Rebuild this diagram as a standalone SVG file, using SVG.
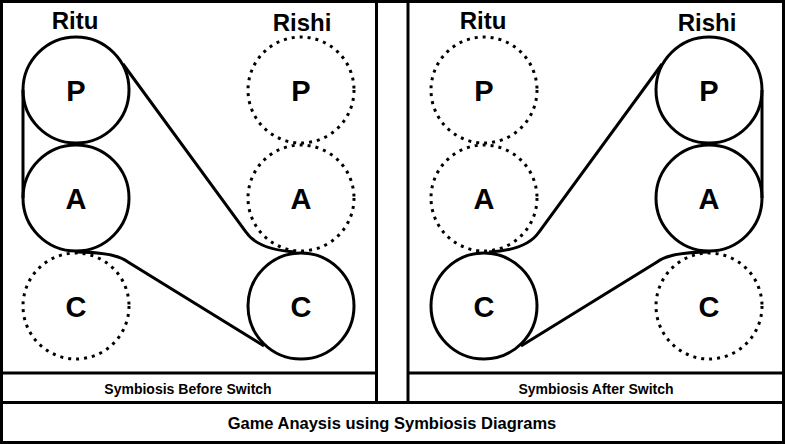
<svg xmlns="http://www.w3.org/2000/svg" width="785" height="444" viewBox="0 0 785 444">
<style>
.b{fill:none;stroke:#000;stroke-width:3}
.s{fill:none;stroke:#000;stroke-width:3}
.d{fill:none;stroke:#000;stroke-width:3;stroke-dasharray:3 5}
.n{font-family:"Liberation Sans",Arial,sans-serif;font-weight:bold;text-anchor:middle}
.l{font-size:29px}
.h{font-size:24px}
</style>
<rect width="785" height="444" fill="#fff"/>
<g id="frame">
<rect class="b" x="1.5" y="1.5" width="782" height="441"/>
<rect class="b" x="1.5" y="1.5" width="375" height="401"/>
<rect class="b" x="408" y="1.5" width="375.5" height="401"/>
<line class="b" x1="1.5" y1="373" x2="376.5" y2="373"/>
<line class="b" x1="408" y1="373" x2="783.5" y2="373"/>
<line class="b" x1="1.5" y1="402.5" x2="783.5" y2="402.5"/>
</g>
<g id="labels">
<text class="n h" x="75" y="29">Ritu</text>
<text class="n h" x="302" y="31">Rishi</text>
<text class="n h" x="483" y="29">Ritu</text>
<text class="n h" x="707" y="31">Rishi</text>
<text class="n" font-size="14" x="188" y="394">Symbiosis Before Switch</text>
<text class="n" font-size="14" x="596" y="394">Symbiosis After Switch</text>
<text class="n" font-size="16.5" x="392" y="429">Game Anaysis using Symbiosis Diagrams</text>
</g>
<g id="left-ritu-P"><circle class="s" cx="76" cy="90" r="53"/><text class="n l" x="76" y="101">P</text></g>
<g id="left-ritu-A"><circle class="s" cx="76" cy="198" r="53"/><text class="n l" x="76" y="209">A</text></g>
<g id="left-ritu-C"><circle class="d" cx="76" cy="306" r="53"/><text class="n l" x="76" y="317">C</text></g>
<g id="left-rishi-P"><circle class="d" cx="301" cy="90" r="53"/><text class="n l" x="301" y="101">P</text></g>
<g id="left-rishi-A"><circle class="d" cx="301" cy="198" r="53"/><text class="n l" x="301" y="209">A</text></g>
<g id="left-rishi-C"><circle class="s" cx="301" cy="306" r="53"/><text class="n l" x="301" y="317">C</text></g>
<g id="right-ritu-P"><circle class="d" cx="484" cy="90" r="53"/><text class="n l" x="484" y="101">P</text></g>
<g id="right-ritu-A"><circle class="d" cx="484" cy="198" r="53"/><text class="n l" x="484" y="209">A</text></g>
<g id="right-ritu-C"><circle class="s" cx="484" cy="306" r="53"/><text class="n l" x="484" y="317">C</text></g>
<g id="right-rishi-P"><circle class="s" cx="709" cy="90" r="53"/><text class="n l" x="709" y="101">P</text></g>
<g id="right-rishi-A"><circle class="s" cx="709" cy="198" r="53"/><text class="n l" x="709" y="209">A</text></g>
<g id="right-rishi-C"><circle class="d" cx="709" cy="306" r="53"/><text class="n l" x="709" y="317">C</text></g>
<g id="connectors">
<path class="s" d="M23,90 L23,198"/>
<path class="s" d="M123,64 L246,232 Q258,250 296,252"/>
<path class="s" d="M76,252 Q115,252 128,262 L264,346"/>
<path class="s" d="M762,90 L762,198"/>
<path class="s" d="M662,64 L539,232 Q527,250 489,252"/>
<path class="s" d="M709,252 Q670,252 657,262 L521,346"/>
</g>
</svg>
